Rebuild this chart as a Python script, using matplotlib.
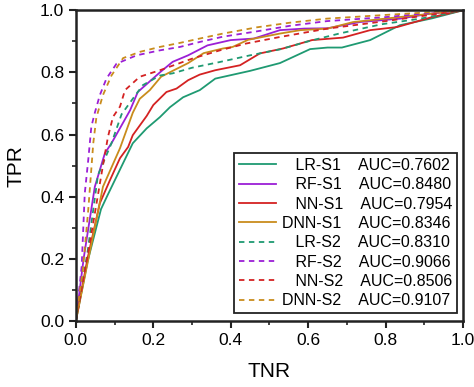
import matplotlib
matplotlib.use("Agg")
import matplotlib.pyplot as plt
from matplotlib.ticker import MultipleLocator

plt.rcParams["font.family"] = ["Liberation Sans", "DejaVu Sans"]

# ROC curves (x = TNR axis, y = TPR)
lr_s1_x = [0, 0.03, 0.065, 0.082, 0.115, 0.147, 0.183, 0.217, 0.243, 0.277, 0.32, 0.36, 0.45, 0.527, 0.605, 0.65, 0.687, 0.76, 0.837, 0.92, 1.0]
lr_s1_y = [0, 0.19, 0.36, 0.405, 0.49, 0.572, 0.62, 0.656, 0.688, 0.72, 0.743, 0.78, 0.805, 0.83, 0.875, 0.88, 0.88, 0.904, 0.952, 0.974, 1.0]

rf_s1_x = [0, 0.02, 0.049, 0.075, 0.092, 0.14, 0.16, 0.217, 0.25, 0.29, 0.34, 0.40, 0.46, 0.527, 0.59, 0.65, 0.733, 0.837, 0.92, 1.0]
rf_s1_y = [0, 0.2, 0.432, 0.54, 0.572, 0.678, 0.737, 0.80, 0.834, 0.855, 0.887, 0.904, 0.909, 0.936, 0.941, 0.942, 0.962, 0.973, 0.99, 1.0]

nn_s1_x = [0, 0.03, 0.062, 0.088, 0.114, 0.135, 0.147, 0.183, 0.2, 0.234, 0.26, 0.29, 0.32, 0.36, 0.424, 0.475, 0.535, 0.61, 0.69, 0.76, 0.83, 0.92, 1.0]
nn_s1_y = [0, 0.2, 0.379, 0.453, 0.524, 0.56, 0.598, 0.66, 0.695, 0.737, 0.748, 0.775, 0.793, 0.807, 0.823, 0.861, 0.877, 0.904, 0.912, 0.936, 0.946, 0.978, 1.0]

dnn_s1_x = [0, 0.07, 0.114, 0.147, 0.165, 0.191, 0.22, 0.25, 0.29, 0.33, 0.38, 0.405, 0.445, 0.527, 0.58, 0.65, 0.716, 1.0]
dnn_s1_y = [0, 0.432, 0.556, 0.67, 0.715, 0.743, 0.786, 0.805, 0.83, 0.862, 0.877, 0.882, 0.905, 0.925, 0.936, 0.941, 0.962, 1.0]

lr_s2_x = [0, 0.03, 0.057, 0.092, 0.118, 0.144, 0.173, 0.217, 0.25, 0.3, 0.37, 0.45, 0.53, 0.6, 0.68, 0.79, 0.89, 1.0]
lr_s2_y = [0, 0.22, 0.469, 0.572, 0.665, 0.71, 0.759, 0.79, 0.797, 0.815, 0.833, 0.855, 0.875, 0.9, 0.925, 0.955, 0.973, 1.0]

rf_s2_x = [0, 0.015, 0.023, 0.032, 0.04, 0.049, 0.062, 0.079, 0.105, 0.157, 0.217, 0.269, 0.32, 0.38, 0.467, 0.553, 0.648, 0.8, 1.0]
rf_s2_y = [0, 0.175, 0.41, 0.518, 0.625, 0.67, 0.727, 0.78, 0.828, 0.855, 0.871, 0.882, 0.898, 0.915, 0.932, 0.95, 0.965, 0.978, 1.0]

nn_s2_x = [0, 0.036, 0.071, 0.083, 0.096, 0.114, 0.127, 0.165, 0.217, 0.302, 0.372, 0.44, 0.527, 0.65, 0.8, 1.0]
nn_s2_y = [0, 0.25, 0.508, 0.593, 0.657, 0.69, 0.743, 0.786, 0.807, 0.845, 0.871, 0.893, 0.914, 0.941, 0.965, 1.0]

dnn_s2_x = [0, 0.018, 0.032, 0.045, 0.053, 0.07, 0.092, 0.122, 0.165, 0.217, 0.269, 0.32, 0.38, 0.467, 0.553, 0.648, 0.8, 1.0]
dnn_s2_y = [0, 0.164, 0.357, 0.572, 0.655, 0.727, 0.79, 0.846, 0.866, 0.882, 0.895, 0.909, 0.925, 0.945, 0.96, 0.973, 0.985, 1.0]

names = ["LR-S1", "RF-S1", "NN-S1", "DNN-S1", "LR-S2", "RF-S2", "NN-S2", "DNN-S2"]
aucs = ["0.7602", "0.8480", "0.7954", "0.8346", "0.8310", "0.9066", "0.8506", "0.9107"]

GREEN, PURPLE, RED, ORANGE = "#1f9a72", "#9b1fd6", "#d42222", "#c98c1c"
curves = [
    (lr_s1_x, lr_s1_y, GREEN, "-"),
    (rf_s1_x, rf_s1_y, PURPLE, "-"),
    (nn_s1_x, nn_s1_y, RED, "-"),
    (dnn_s1_x, dnn_s1_y, ORANGE, "-"),
    (lr_s2_x, lr_s2_y, GREEN, (0, (3, 2.5))),
    (rf_s2_x, rf_s2_y, PURPLE, (0, (3, 2.5))),
    (nn_s2_x, nn_s2_y, RED, (0, (3, 2.5))),
    (dnn_s2_x, dnn_s2_y, ORANGE, (0, (3, 2.5))),
]

fig = plt.figure(figsize=(4.74, 3.87), dpi=100)
ax = fig.add_axes([0.160, 0.1705, 0.817, 0.803])

for (x, y, c, ls), name, auc in zip(curves, names, aucs):
    pad = "" if name.startswith("DNN") else "   "
    ax.plot(x, y, color=c, ls=ls, lw=1.3, label=f"{pad}{name}    AUC={auc}")

ax.set_xlim(0, 1); ax.set_ylim(0, 1)
ax.xaxis.set_major_locator(MultipleLocator(0.2)); ax.xaxis.set_minor_locator(MultipleLocator(0.1))
ax.yaxis.set_major_locator(MultipleLocator(0.2)); ax.yaxis.set_minor_locator(MultipleLocator(0.1))
ax.xaxis.set_major_formatter(lambda v, p: f"{v:.1f}")
ax.yaxis.set_major_formatter(lambda v, p: f"{v:.1f}")
ax.tick_params(which="major", direction="out", length=5, width=1.5, labelsize=12.5, color="#222222")
ax.tick_params(which="minor", direction="out", length=3, width=1.2, color="#222222")
for s in ax.spines.values():
    s.set_linewidth(1.8); s.set_color("#222222")
ax.set_xlabel("TNR", fontsize=15, labelpad=10)
ax.set_ylabel("TPR", fontsize=15, labelpad=10)

leg = ax.legend(loc="lower right", bbox_to_anchor=(0.985, 0.026), fontsize=11.5, frameon=True,
                fancybox=False, framealpha=1, edgecolor="#222222", handlelength=2.3,
                labelspacing=0.27, borderpad=0.3, handletextpad=0.4, borderaxespad=0)
leg.get_frame().set_linewidth(1.3)

fig.savefig("out.png", dpi=100)
